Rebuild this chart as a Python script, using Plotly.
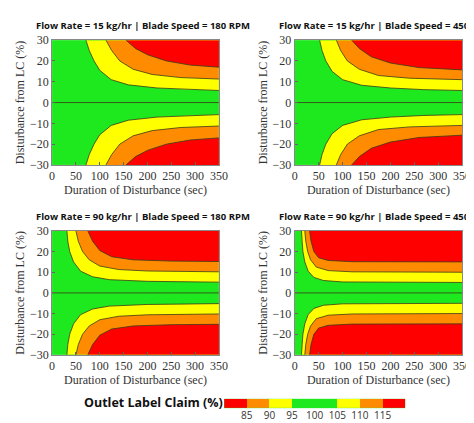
import plotly.graph_objects as go

titles = ["Flow Rate = 15 kg/hr | Blade Speed = 180 RPM",
          "Flow Rate = 15 kg/hr | Blade Speed = 450 RPM",
          "Flow Rate = 90 kg/hr | Blade Speed = 180 RPM",
          "Flow Rate = 90 kg/hr | Blade Speed = 450 RPM"]

# boundary curves (duration, |disturbance|) for |LC-100| = 5, 10, 15
p1_t5 = [71, 78, 88, 100, 124, 160, 220, 280, 350]; p1_d5 = [30, 25, 20, 15.5, 11, 8.5, 7, 6.3, 5.8]
p1_t10 = [113, 125, 142, 170, 210, 270, 350];       p1_d10 = [30, 25, 20, 16, 13.5, 12, 11.3]
p1_t15 = [155, 175, 200, 240, 290, 350];            p1_d15 = [30, 26, 23, 20, 18, 17]
p2_t5 = [52, 57, 65, 78, 100, 140, 200, 270, 350];  p2_d5 = [30, 25, 20, 15, 11, 8.3, 7, 6.2, 5.8]
p2_t10 = [87, 96, 110, 135, 175, 240, 350];         p2_d10 = [30, 25, 20, 16, 13, 11.7, 11]
p2_t15 = [119, 135, 160, 200, 260, 350];            p2_d15 = [30, 26, 22, 19, 16.8, 15.7]
p3_t5 = [31, 33, 37, 45, 60, 85, 120, 200, 350];    p3_d5 = [30, 25, 20, 15, 10.5, 7.8, 6.4, 5.6, 5.2]
p3_t10 = [50, 55, 64, 78, 100, 140, 200, 350];      p3_d10 = [30, 25, 20, 16, 13, 11.3, 10.6, 10.2]
p3_t15 = [75, 85, 100, 125, 170, 250, 350];         p3_d15 = [30, 25, 20.5, 17.5, 16, 15.4, 15.2]
p4_t5 = [14, 15, 17, 21, 28, 40, 60, 100, 350];     p4_d5 = [30, 25, 20, 15, 10.5, 7.5, 6, 5.3, 5.05]
p4_t10 = [21, 23, 27, 33, 45, 70, 120, 350];        p4_d10 = [30, 25, 20, 16, 12.5, 10.8, 10.2, 10]
p4_t15 = [31, 34, 40, 50, 70, 120, 350];            p4_d15 = [30, 25, 20, 17, 15.7, 15.1, 15]

panels = [[(p1_t5, p1_d5), (p1_t10, p1_d10), (p1_t15, p1_d15)],
          [(p2_t5, p2_d5), (p2_t10, p2_d10), (p2_t15, p2_d15)],
          [(p3_t5, p3_d5), (p3_t10, p3_d10), (p3_t15, p3_d15)],
          [(p4_t5, p4_d5), (p4_t10, p4_d10), (p4_t15, p4_d15)]]

legend_centers = [82.5, 87.5, 92.5, 97.5, 102.5, 107.5, 112.5, 117.5]
legend_ticks = [85, 90, 95, 100, 105, 110, 115]

GREEN, YELLOW, ORANGE, RED = "#1ee81e", "#ffff00", "#ff8c00", "#ff0000"
band_colors = [YELLOW, ORANGE, RED]
LINE = "#3a3a1a"

xdom = [[0.093, 0.445], [0.605, 0.958], [0.093, 0.445], [0.605, 0.958]]
ydom = [[0.629, 0.924], [0.629, 0.924], [0.180, 0.473], [0.180, 0.473]]

fig = go.Figure()
serif = dict(family="Liberation Serif", size=12, color="#333")
for i, curves in enumerate(panels):
    ax = "" if i == 0 else str(i + 1)
    xa, ya = "x" + ax, "y" + ax
    for sign in (1, -1):
        for (t, d), col in zip(curves, band_colors):
            yy = [sign * v for v in d]
            fig.add_trace(go.Scatter(x=t + [350], y=yy + [sign * 30], fill="toself",
                                     fillcolor=col, mode="none",
                                     xaxis=xa, yaxis=ya, showlegend=False, hoverinfo="skip"))
        for (t, d), col in zip(curves, band_colors):
            fig.add_trace(go.Scatter(x=t, y=[sign * v for v in d], mode="lines",
                                     line=dict(color=LINE, width=0.8),
                                     xaxis=xa, yaxis=ya, showlegend=False, hoverinfo="skip"))
    fig.add_trace(go.Scatter(x=[0, 350], y=[0, 0], mode="lines", line=dict(color=LINE, width=0.8),
                             xaxis=xa, yaxis=ya, showlegend=False, hoverinfo="skip"))
    common = dict(showline=True, mirror=True, linecolor="#888", linewidth=1, ticks="inside",
                  ticklen=3, tickcolor="#666", showgrid=False, zeroline=False, tickfont=serif,
                  automargin=False)
    fig.layout["xaxis" + ax] = dict(domain=xdom[i], range=[0, 350], tickvals=list(range(0, 351, 50)),
                                    anchor=ya, title=dict(text="Duration of Disturbance (sec)",
                                                          font=serif, standoff=2), **common)
    fig.layout["yaxis" + ax] = dict(domain=ydom[i], range=[-30, 30], tickvals=list(range(-30, 31, 10)),
                                    anchor=xa, title=dict(text="Disturbance from LC (%)",
                                                          font=serif, standoff=2), **common)
    fig.add_annotation(text="<b>" + titles[i] + "</b>", x=(xdom[i][0] + xdom[i][1]) / 2 + 0.015,
                       y=ydom[i][1] + 0.015, xref="paper", yref="paper", yanchor="bottom",
                       xanchor="center", showarrow=False,
                       font=dict(family="Open Sans", size=9.5, color="#111"))

fig.add_trace(go.Heatmap(x=legend_centers, y=[0], z=[list(range(8))], xaxis="x5", yaxis="y5",
                         colorscale=[[0, RED], [1 / 7, ORANGE], [2 / 7, YELLOW], [3 / 7, GREEN],
                                     [4 / 7, GREEN], [5 / 7, YELLOW], [6 / 7, ORANGE], [1, RED]],
                         showscale=False, hoverinfo="skip", xgap=0))
fig.layout["xaxis5"] = dict(domain=[0.456, 0.838], range=[80, 120], tickvals=legend_ticks, anchor="y5",
                            showgrid=False, zeroline=False, ticks="", showline=False, automargin=False,
                            tickfont=dict(family="Open Sans", size=10, color="#333"))
fig.layout["yaxis5"] = dict(domain=[0.054, 0.076], range=[-0.5, 0.5], visible=False, anchor="x5")
fig.add_annotation(text="<b>Outlet Label Claim (%)</b>", x=0.306, y=0.043, xref="paper", yref="paper",
                   xanchor="center", showarrow=False, font=dict(family="Open Sans", size=12.5, color="#111"))

fig.update_layout(width=474, height=423, margin=dict(l=0, r=0, t=0, b=0),
                  plot_bgcolor=GREEN, paper_bgcolor="white")
fig.write_html("out.html")
